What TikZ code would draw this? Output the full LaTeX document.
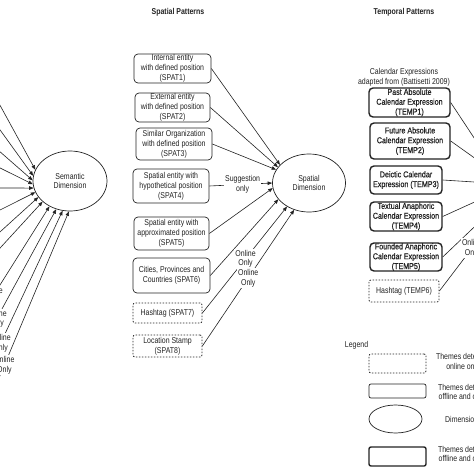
\documentclass[tikz,border=0pt]{standalone}
\usepackage{fontspec}
\setmainfont{Liberation Sans}[FakeStretch=0.82]
\newfontfamily\tempfont{Liberation Sans}[FakeStretch=0.84,FakeBold=0.6]
\usetikzlibrary{arrows.meta,shapes.geometric}
\definecolor{ink}{HTML}{222222}
\newcommand\fs{\fontsize{8.5}{9.8}\selectfont}
\begin{document}
\begin{tikzpicture}[x=1pt,y=-1pt,
  every node/.style={font=\fs, text=ink, align=center, inner sep=0pt},
  sbox/.style={draw=ink, line width=0.7pt, rounded corners=4pt},
  tbox/.style={draw=ink, line width=1.4pt, rounded corners=4pt},
  ttext/.style={font=\fs\tempfont},
  obox/.style={draw=ink, line width=0.8pt, dash pattern=on 1.5pt off 1.5pt, rounded corners=2pt},
  dimension/.style={draw=ink, ellipse, line width=0.7pt},
  conn/.style={draw=ink, line width=0.6pt, -{Triangle[length=4.5pt,width=3.5pt]}},
  lbl/.style={fill=white, inner sep=1pt},
  title/.style={font=\fs\bfseries}]
\path[use as bounding box] (0,0) rectangle (474,474);
\clip (0,0) rectangle (474,474);

% titles
\node[title] (ttsp) at (178,12) {Spatial Patterns};
\node[title] (tttp) at (404,12) {Temporal Patterns};
\node (tcal) at (404,77) {Calendar Expressions\\adapted from (Battisetti 2009)};

% dimensions
\node[dimension, minimum width=74pt, minimum height=60pt] (sem) at (70,181) {Semantic\\Dimension};
\node[dimension, minimum width=73pt, minimum height=58pt] (spa) at (309,183) {Spatial\\Dimension};

% spatial boxes
\node[sbox, minimum width=77pt, minimum height=29pt] (spat1) at (172.5,68.5) {Internal entity\\with defined position\\(SPAT1)};
\node[sbox, minimum width=75pt, minimum height=29pt] (spat2) at (172.5,107.5) {External entity\\with defined position\\(SPAT2)};
\node[sbox, minimum width=76pt, minimum height=32pt] (spat3) at (174,144) {Similar Organization\\with defined position\\(SPAT3)};
\node[sbox, minimum width=76pt, minimum height=34pt] (spat4) at (171,186) {Spatial entity with\\hypothetical position\\(SPAT4)};
\node[sbox, minimum width=75pt, minimum height=33pt] (spat5) at (171.5,233.5) {Spatial entity with\\approximated position\\(SPAT5)};
\node[sbox, minimum width=77pt, minimum height=35pt] (spat6) at (171.5,275.5) {Cities, Provinces and\\Countries (SPAT6)};
\node[obox, minimum width=69pt, minimum height=20pt] (spat7) at (167.5,313) {Hashtag (SPAT7)};
\node[obox, minimum width=69pt, minimum height=22pt] (spat8) at (167.5,346) {Location Stamp\\(SPAT8)};

% temporal boxes
\node[tbox, ttext, minimum width=81pt, minimum height=29pt] (temp1) at (409.5,102.5) {Past Absolute\\Calendar Expression\\(TEMP1)};
\node[tbox, ttext, minimum width=80pt, minimum height=36pt] (temp2) at (410,141) {Future Absolute\\Calendar Expression\\(TEMP2)};
\node[tbox, ttext, minimum width=72pt, minimum height=28pt] (temp3) at (406,180) {Deictic Calendar\\Expression (TEMP3)};
\node[tbox, ttext, minimum width=72pt, minimum height=29pt] (temp4) at (406,216.5) {Textual Anaphoric\\Calendar Expression\\(TEMP4)};
\node[tbox, ttext, minimum width=72pt, minimum height=28pt] (temp5) at (406,257) {Founded Anaphoric\\Calendar Expression\\(TEMP5)};
\node[obox, minimum width=70pt, minimum height=22pt] (temp6) at (404,291) {Hashtag (TEMP6)};

% legend
\node (lgt) at (356.5,345) {Legend};
\node[obox, minimum width=57pt, minimum height=19pt] (lg1) at (397.5,363.5) {};
\node[sbox, minimum width=57pt, minimum height=14pt, rounded corners=2pt] (lg2) at (397.5,391) {};
\node[dimension, minimum width=53pt, minimum height=28pt] (lg3) at (395.5,419) {};
\node[tbox, minimum width=57pt, minimum height=19pt, rounded corners=2pt] (lg4) at (397.5,456.5) {};
\node (lt1) at (463,362) {Themes detected\\online only};
\node (lt2) at (465,392) {Themes detected\\offline and online};
\node[anchor=west] (lt3) at (445,419) {Dimension};
\node (lt4) at (465,454) {Themes detected\\offline and online};

% sources off the left edge
\coordinate (s1) at (-10,87);
\coordinate (s2) at (-10,116);
\coordinate (s3) at (-10,143);
\coordinate (s4) at (-10,163);
\coordinate (s5) at (-10,188);
\coordinate (s6) at (-10,215);
\coordinate (s7) at (-10,241);
\coordinate (s8) at (-10,259);
\coordinate (l1) at (-34,339);
\coordinate (l2) at (-31.5,370.5);
\coordinate (l3) at (-28.5,405.5);
\coordinate (l4) at (-26,437.5);
\draw[conn] (s1) -- (sem.162);
\draw[conn] (s2) -- (sem.172);
\draw[conn] (s3) -- (sem.179);
\draw[conn] (s4) -- (sem.185);
\draw[conn] (s5) -- (sem.191);
\draw[conn] (s6) -- (sem.198);
\draw[conn] (s7) -- (sem.207);
\draw[conn] (s8) -- (sem.217);
\draw[conn] (l1) -- node[lbl,pos=0.32]{Online\\Only} (sem.231);
\draw[conn] (l2) -- node[lbl,pos=0.32]{Online\\Only} (sem.244);
\draw[conn] (l3) -- node[lbl,pos=0.32]{Online\\Only} (sem.256);
\draw[conn] (l4) -- node[lbl,pos=0.32]{Online\\Only} (sem.268);

% spatial connectors
\draw[conn] (spat1.east) -- (spa.148);
\draw[conn] (spat2.east) -- (spa.153);
\draw[conn] (spat3.east) -- (spa.158);
\draw[conn] (spat4.east) -- node[lbl,pos=0.53]{Suggestion\\only} (spa.180);
\draw[conn] (spat5.east) -- (spa.188);
\draw[conn] (spat6.east) -- (spa.208);
\draw[conn] (spat7.east) -- node[lbl,pos=0.51]{Online\\Only} (spa.227);
\draw[conn] (spat8.east) -- node[lbl,pos=0.5]{Online\\Only} (spa.241);

% temporal connectors toward off-picture dimension
\coordinate (t1) at (490,162);
\coordinate (t2) at (490,169);
\coordinate (t3) at (490,183);
\coordinate (t4) at (490,195);
\coordinate (t5) at (490,212);
\coordinate (t6) at (490,224.5);
\draw[conn] (temp1.east) -- (t1);
\draw[conn] (temp2.east) -- (t2);
\draw[conn] (temp3.east) -- (t3);
\draw[conn] (temp4.east) -- (t4);
\draw[conn] (temp5.east) -- (t5);
\draw[conn] (temp6.east) -- node[lbl,pos=0.647]{Online\\Only} (t6);
\end{tikzpicture}
\end{document}
